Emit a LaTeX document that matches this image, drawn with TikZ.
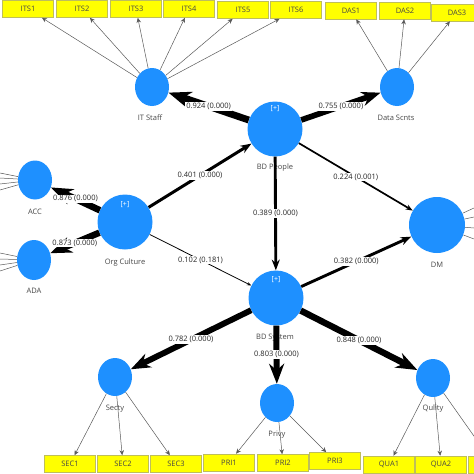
\documentclass[tikz,border=0pt]{standalone}
\usepackage{fontspec}
\setmainfont{Open Sans}
\usetikzlibrary{arrows.meta,shapes.geometric}
\definecolor{lvblue}{RGB}{30,144,255}
\definecolor{indyel}{RGB}{255,255,0}
\definecolor{indrim}{RGB}{190,190,90}
\definecolor{txtgray}{RGB}{70,70,70}

\begin{document}
\begin{tikzpicture}[x=1pt,y=-1pt,font=\fontsize{7.5}{9}\selectfont,
	lv/.style={ellipse, fill=lvblue, inner sep=0pt, minimum width=34pt, minimum height=38pt},
	hub/.style={circle, fill=lvblue, inner sep=0pt, minimum size=55pt},
	ind/.style={rectangle, fill=indyel, draw=indrim, line width=0.6pt, minimum width=51pt, minimum height=17pt, inner sep=0pt, text=txtgray},
	lvname/.style={text=txtgray, inner sep=0pt},
	plus/.style={text=white, inner sep=0pt, font=\fontsize{7}{8}\selectfont},
	load/.style={draw=black!65, line width=0.5pt, -{Stealth[length=5pt,width=4.5pt]}},
	beta/.style={draw=black, line width=#1, -{Stealth[length=2pt 3]}},
	coef/.style={fill=white, inner sep=1pt, text=black!85}]
	\useasboundingbox (0,0) rectangle (474,474);
	\clip (0,0) rectangle (474,474);

	% latent variables
	\node (IT)  at (152,  87)	[lv]	{};
	\node (DS)  at (397,  87)	[lv]	{};
	\node (BDP) at (275, 129)	[hub]	{};
	\node (OC)  at (125, 222)	[hub]	{};
	\node (ACC) at ( 35, 180)	[lv, minimum height=39pt]	{};
	\node (ADA) at ( 34, 260)	[lv, minimum height=40pt]	{};
	\node (DM)  at (437, 225)	[hub, minimum size=56pt]	{};
	\node (BDS) at (276, 298)	[hub]	{};
	\node (SEC) at (115, 377)	[lv]	{};
	\node (PRI) at (277, 403)	[lv]	{};
	\node (QUA) at (433, 378)	[lv]	{};

	\node (pBDP) at (275, 109)	[plus]	{[+]};
	\node (pOC)  at (125, 205)	[plus]	{[+]};
	\node (pBDS) at (276, 280)	[plus]	{[+]};

	\node (tIT)  at (150, 118)	[lvname]	{IT Staff};
	\node (tDS)  at (396, 118)	[lvname]	{Data Scnts};
	\node (tBDP) at (275, 168)	[lvname]	{BD People};
	\node (tOC)  at (125, 263)	[lvname]	{Org Culture};
	\node (tACC) at ( 35, 212)	[lvname]	{ACC};
	\node (tADA) at ( 34, 291)	[lvname]	{ADA};
	\node (tDM)  at (437, 265)	[lvname]	{DM};
	\node (tBDS) at (275, 338)	[lvname]	{BD System};
	\node (tSEC) at (115, 409)	[lvname]	{Secty};
	\node (tPRI) at (277, 435)	[lvname]	{Privy};
	\node (tQUA) at (433, 409)	[lvname]	{Qulity};

	% indicators
	\node (ITS1) at ( 28,  9)	[ind]	{ITS1};
	\node (ITS2) at ( 82,  9)	[ind]	{ITS2};
	\node (ITS3) at (136,  9)	[ind]	{ITS3};
	\node (ITS4) at (189,  9)	[ind]	{ITS4};
	\node (ITS5) at (243, 10)	[ind]	{ITS5};
	\node (ITS6) at (296, 10)	[ind]	{ITS6};
	\node (DAS1) at (351, 10.5)	[ind]	{DAS1};
	\node (DAS2) at (405, 10.5)	[ind]	{DAS2};
	\node (DAS3) at (457, 12.5)	[ind]	{DAS3};
	\node (SEC1) at ( 70, 464)	[ind]	{SEC1};
	\node (SEC2) at (123, 464)	[ind]	{SEC2};
	\node (SEC3) at (176, 464)	[ind]	{SEC3};
	\node (PRI1) at (229, 462.5)	[ind]	{PRI1};
	\node (PRI2) at (283, 463)	[ind]	{PRI2};
	\node (PRI3) at (335, 461)	[ind]	{PRI3};
	\node (QUA1) at (389, 464.5)	[ind]	{QUA1};
	\node (QUA2) at (441, 464.5)	[ind]	{QUA2};
	\node (QUA3) at (494, 464.5)	[ind]	{};

	\coordinate (acc1) at (0, 173);
	\coordinate (acc2) at (0, 178);
	\coordinate (acc3) at (0, 184);
	\coordinate (acc4) at (0, 190);
	\coordinate (ada1) at (0, 253);
	\coordinate (ada2) at (0, 259);
	\coordinate (ada3) at (0, 265);
	\coordinate (ada4) at (0, 271);
	\coordinate (dm1) at (474, 208);
	\coordinate (dm2) at (474, 217);
	\coordinate (dm3) at (474, 228);
	\coordinate (dm4) at (474, 239);

	% outer model
	\foreach \i in {1,...,6}
		\draw[load] (IT) -- (ITS\i);
	\foreach \i in {1,2,3}
	{
		\draw[load] (DS) -- (DAS\i);
		\draw[load] (SEC) -- (SEC\i);
		\draw[load] (PRI) -- (PRI\i);
		\draw[load] (QUA) -- (QUA\i);
	}
	\foreach \i in {1,...,4}
	{
		\draw[draw=black!65, line width=0.5pt] (ACC) -- (acc\i);
		\draw[draw=black!65, line width=0.5pt] (ADA) -- (ada\i);
		\draw[draw=black!65, line width=0.5pt] (DM) -- (dm\i);
	}

	% inner model
	\draw[beta=6.9pt] (BDP) -- node[coef] {0.924 (0.000)} (IT);
	\draw[beta=5.7pt] (BDP) -- node[coef] {0.755 (0.000)} (DS);
	\draw[beta=3.0pt] (OC) -- node[coef] {0.401 (0.000)} (BDP);
	\draw[beta=6.6pt] (OC) -- node[coef] {0.876 (0.000)} (ACC);
	\draw[beta=6.5pt] (OC) -- node[coef] {0.873 (0.000)} (ADA);
	\draw[beta=0.8pt] (OC) -- node[coef] {0.102 (0.181)} (BDS);
	\draw[beta=2.9pt] (BDP) -- node[coef] {0.389 (0.000)} (BDS);
	\draw[beta=1.7pt] (BDP) -- node[coef] {0.224 (0.001)} (DM);
	\draw[beta=2.9pt] (BDS) -- node[coef] {0.382 (0.000)} (DM);
	\draw[beta=5.9pt] (BDS) -- node[coef] {0.782 (0.000)} (SEC);
	\draw[beta=6.0pt] (BDS) -- node[coef] {0.803 (0.000)} (PRI);
	\draw[beta=6.4pt] (BDS) -- node[coef] {0.848 (0.000)} (QUA);
\end{tikzpicture}
\end{document}
